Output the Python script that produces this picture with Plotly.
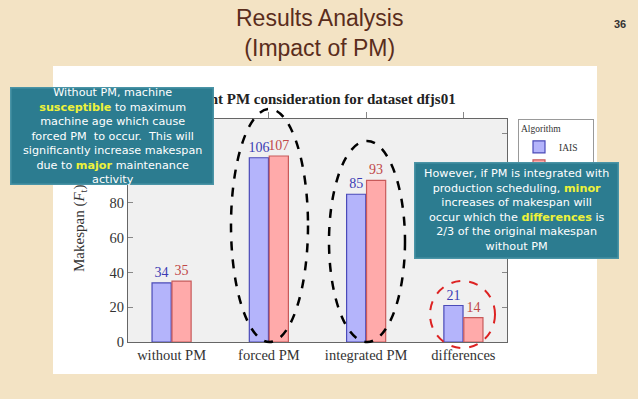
import plotly.graph_objects as go

# ---- data ----
categories = ["without PM", "forced PM", "integrated PM", "differences"]
iais = [34, 106, 85, 21]
mcro = [35, 107, 93, 14]
y_ticks = [0, 20, 40, 60, 80, 100, 120]

# ---- geometry helpers (pixel -> paper) ----
W, H = 638, 399
L, R, T, B = 128, 507, 119, 342


def px(x):
    return (x - L) / (R - L)


def py(y):
    return (B - y) / (B - T)


SERIF = "Liberation Serif, Times New Roman, serif"
SANS = "Liberation Sans, Arial, sans-serif"
WIDE = "DejaVu Sans, Verdana, sans-serif"
TEAL = "#2c7c90"
YEL = "#eef23a"
XRANGE = [-0.448, 3.448]

fig = go.Figure()
fig.add_bar(
    name="IAIS", x=categories, y=iais, text=[str(v) for v in iais],
    textposition="outside", cliponaxis=False, constraintext="none",
    marker=dict(color="#b4b4fb", line=dict(color="#4a4ab8", width=1.2)),
    textfont=dict(family=SERIF, size=14, color="#3c3cb4"),
)
fig.add_bar(
    name="MCRO", x=categories, y=mcro, text=[str(v) for v in mcro],
    textposition="outside", cliponaxis=False, constraintext="none",
    marker=dict(color="#ffaaaa", line=dict(color="#c85a5a", width=1.2)),
    textfont=dict(family=SERIF, size=14, color="#c04848"),
)
# empty helper trace so the top tick axis is drawn
fig.add_scatter(x=[], y=[], xaxis="x2", showlegend=False, hoverinfo="skip")

shapes = [
    # white chart image
    dict(type="rect", xref="paper", yref="paper", layer="below",
         x0=px(53), x1=px(597), y0=py(374), y1=py(66),
         fillcolor="white", line=dict(width=0)),
    # plot area background
    dict(type="rect", xref="paper", yref="paper", layer="below",
         x0=0, x1=1, y0=0, y1=1,
         fillcolor="#f0f0f0", line=dict(width=0)),
    # dashed ellipses
    dict(type="circle", xref="paper", yref="paper",
         x0=px(231), x1=px(308), y0=py(342), y1=py(109),
         line=dict(color="black", width=2.5, dash="dash")),
    dict(type="circle", xref="paper", yref="paper",
         x0=px(329), x1=px(405), y0=py(342), y1=py(141),
         line=dict(color="black", width=2.5, dash="dash")),
    dict(type="circle", xref="paper", yref="paper",
         x0=px(430), x1=px(495), y0=py(348), y1=py(281),
         line=dict(color="#dd2222", width=2, dash="dash")),
]

left_text = (
    "Without PM, machine<br>"
    f"<b><span style='color:{YEL}'>susceptible</span></b> to maximum<br>"
    "machine age which cause<br>"
    "forced PM  to occur.  This will<br>"
    "significantly increase makespan<br>"
    f"due to <b><span style='color:{YEL}'>major</span></b> maintenance<br>"
    "activity"
)
right_text = (
    "However, if PM is integrated with<br>"
    f"production scheduling, <b><span style='color:{YEL}'>minor</span></b><br>"
    "increases of makespan will<br>"
    f"occur which the <b><span style='color:{YEL}'>differences</span></b> is<br>"
    "2/3 of the original makespan<br>"
    "without PM"
)

annotations = [
    # slide title
    dict(text="Results Analysis<br>(Impact of PM)", x=px(319), y=py(33),
         font=dict(family=SANS, size=23, color="#5a2d1c")),
    dict(text="<b>36</b>", x=px(620), y=py(24),
         font=dict(family=SANS, size=11, color="#333333")),
    # chart title (partially hidden by callout)
    dict(text="<b>Different PM consideration for dataset dfjs01</b>",
         x=px(458), y=py(99), xanchor="right",
         font=dict(family=SERIF, size=15, color="#222222")),
    # y axis title
    dict(text="Makespan (<i>F</i><sub>t</sub>)", x=px(80), y=py(228),
         textangle=-90, font=dict(family=SERIF, size=15, color="#333333")),
    # left callout box + text
    dict(text=" ", x=px(111.5), y=py(135.5), width=201, height=95,
         bgcolor=TEAL, bordercolor="#4a94a6", borderwidth=1.5, borderpad=0),
    dict(text=left_text, x=px(112), y=py(135.5),
         font=dict(family=WIDE, size=11.2, color="white")),
    # right callout box + text
    dict(text=" ", x=px(516), y=py(210), width=202, height=94,
         bgcolor=TEAL, bordercolor="#4a94a6", borderwidth=1.5, borderpad=0),
    dict(text=right_text, x=px(516), y=py(210),
         font=dict(family=WIDE, size=11.2, color="white")),
]
for a in annotations:
    a.update(xref="paper", yref="paper", showarrow=False)
    a.setdefault("xanchor", "center")
    a.setdefault("yanchor", "middle")

fig.update_layout(
    width=W, height=H,
    margin=dict(l=L, r=W - R, t=T, b=H - B, pad=0),
    paper_bgcolor="#f3e3c4",
    plot_bgcolor="rgba(0,0,0,0)",
    barmode="group", bargap=0.59, bargroupgap=0.04,
    showlegend=True,
    legend=dict(
        x=px(518), y=py(119), xanchor="left", yanchor="top",
        bgcolor="white", bordercolor="#999999", borderwidth=1,
        title=dict(text="Algorithm", font=dict(family=SERIF, size=9.5, color="#333")),
        font=dict(family=SERIF, size=9.5, color="#333"),
        itemwidth=30, tracegroupgap=0,
    ),
    xaxis=dict(
        type="category", range=XRANGE,
        showline=True, linecolor="#666666", linewidth=1, mirror=True,
        ticks="", showgrid=False,
        tickfont=dict(family=SERIF, size=14.5, color="#333333"),
    ),
    xaxis2=dict(
        overlaying="x", side="top", anchor="y", range=XRANGE,
        tickvals=[0, 1, 2, 3], ticks="outside", ticklen=6,
        tickcolor="#888888", showticklabels=False, showgrid=False,
        zeroline=False, showline=False,
    ),
    yaxis=dict(
        range=[0, 128.3], tickvals=y_ticks,
        showline=True, linecolor="#666666", linewidth=1, mirror="ticks",
        ticks="inside", ticklen=5, tickcolor="#888888",
        showgrid=False, zeroline=False,
        tickfont=dict(family=SERIF, size=14.5, color="#333333"),
    ),
    shapes=shapes,
    annotations=annotations,
)

fig.write_html(
    "out.html",
    config={"displayModeBar": False},
    post_script="document.body.style.margin='0';document.body.style.background='#f3e3c4';",
)
